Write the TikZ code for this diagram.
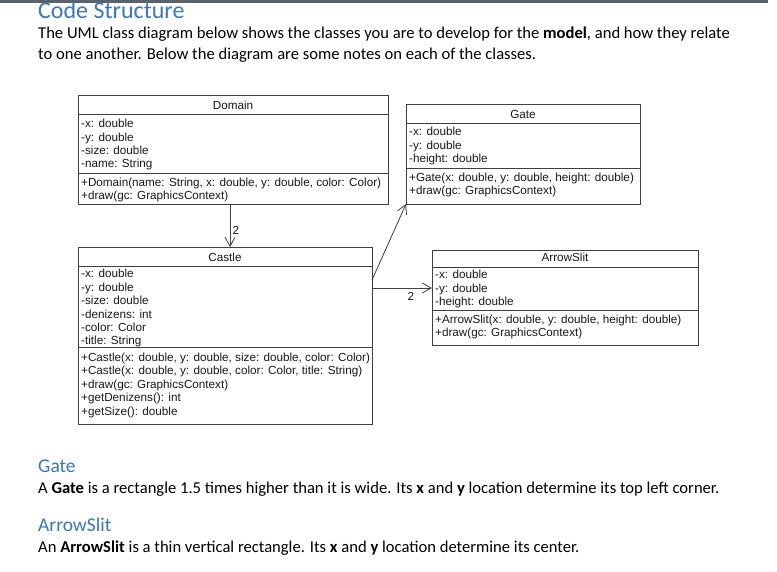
\documentclass[tikz,border=0pt]{standalone}
\usepackage{fontspec}
\setmainfont{Carlito}
\newfontfamily\umlfont{Liberation Sans}
\usetikzlibrary{arrows.meta}
\definecolor{headblue}{HTML}{3A78BD}
\definecolor{umlline}{HTML}{404040}
\definecolor{barcol}{HTML}{59626B}
\begin{document}
\begin{tikzpicture}[x=1pt,y=-1pt,
  classbox/.style={draw=umlline, line width=0.8pt, anchor=north west, inner sep=0pt, outer sep=0pt},
  divider/.style={draw=umlline, line width=0.8pt},
  umltext/.style={font=\umlfont\fontsize{11.7}{13}\selectfont, inner sep=0pt, anchor=base west, text=black!90},
  umltitle/.style={font=\umlfont\fontsize{11.7}{13}\selectfont, inner sep=0pt, anchor=base, text=black!90},
  assoc/.style={draw=umlline, line width=0.8pt, -{Straight Barb[length=9pt,width=10pt]}},
  mult/.style={font=\umlfont\fontsize{11.7}{13}\selectfont, inner sep=0pt, text=black!90},
  heading/.style={font=\fontsize{24}{28}\selectfont, text=headblue, anchor=base west, inner sep=0pt},
  subheading/.style={font=\fontsize{19.5}{23}\selectfont, text=headblue, anchor=base west, inner sep=0pt},
  bodytext/.style={font=\fontsize{16.6}{20}\selectfont, anchor=base west, inner sep=0pt},
]
\useasboundingbox (0,0) rectangle (777,572);
\fill[white] (0,0) rectangle (777,572);
\fill[barcol] (0,0) rectangle (768,3);

% texts
\node[heading] (title) at (38,18.5) {Code Structure};
\node[bodytext] (p1) at (38,39) {The UML class diagram below shows the classes you are to develop for the \textbf{model}, and how they relate};
\node[bodytext] (p2) at (38,60) {to one another. Below the diagram are some notes on each of the classes.};
\node[subheading] (h2) at (38,472) {Gate};
\node[bodytext] (p3) at (38,493.5) {A \textbf{Gate} is a rectangle 1.5 times higher than it is wide. Its \textbf{x} and \textbf{y} location determine its top left corner.};
\node[subheading] (h3) at (38,531.5) {ArrowSlit};
\node[bodytext] (p4) at (38,552.5) {An \textbf{ArrowSlit} is a thin vertical rectangle. Its \textbf{x} and \textbf{y} location determine its center.};

% Domain
\node[classbox, minimum width=310pt, minimum height=109pt] (domain) at (78,95) {};
\coordinate (d1) at (0,114);
\coordinate (d2) at (0,173);
\draw[divider] (domain.west |- d1) -- (domain.east |- d1);
\draw[divider] (domain.west |- d2) -- (domain.east |- d2);
\node[umltitle] (dtitle) at (233,109.5) {Domain};
\foreach \t [count=\i from 0] in {{-x: double},{-y: double},{-size: double},{-name: String}}
  \node[umltext] (da\i) at (81,127.8+13.4*\i) {\t};
\foreach \t [count=\i from 0] in {{+Domain(name: String, x: double, y: double, color: Color)},{+draw(gc: GraphicsContext)}}
  \node[umltext] (dm\i) at (81,186.5+13.4*\i) {\t};

% Gate
\node[classbox, minimum width=234pt, minimum height=100pt] (gate) at (406,104) {};
\coordinate (g1) at (0,123);
\coordinate (g2) at (0,168);
\draw[divider] (gate.west |- g1) -- (gate.east |- g1);
\draw[divider] (gate.west |- g2) -- (gate.east |- g2);
\node[umltitle] (gtitle) at (523,119) {Gate};
\foreach \t [count=\i from 0] in {{-x: double},{-y: double},{-height: double}}
  \node[umltext] (ga\i) at (409,136+13.4*\i) {\t};
\foreach \t [count=\i from 0] in {{+Gate(x: double, y: double, height: double)},{+draw(gc: GraphicsContext)}}
  \node[umltext] (gm\i) at (409,181.5+13.4*\i) {\t};

% Castle
\node[classbox, minimum width=294pt, minimum height=177pt] (castle) at (78,247) {};
\coordinate (c1) at (0,266);
\coordinate (c2) at (0,347);
\draw[divider] (castle.west |- c1) -- (castle.east |- c1);
\draw[divider] (castle.west |- c2) -- (castle.east |- c2);
\node[umltitle] (ctitle) at (225,261.5) {Castle};
\foreach \t [count=\i from 0] in {{-x: double},{-y: double},{-size: double},{-denizens: int},{-color: Color},{-title: String}}
  \node[umltext] (ca\i) at (81,278+13.4*\i) {\t};
\foreach \t [count=\i from 0] in {{+Castle(x: double, y: double, size: double, color: Color)},{+Castle(x: double, y: double, color: Color, title: String)},{+draw(gc: GraphicsContext)},{+getDenizens(): int},{+getSize(): double}}
  \node[umltext] (cm\i) at (81,361.5+13.4*\i) {\t};

% ArrowSlit
\node[classbox, minimum width=266pt, minimum height=95pt] (arrowslit) at (432,250) {};
\coordinate (s1) at (0,267);
\coordinate (s2) at (0,310);
\draw[divider] (arrowslit.west |- s1) -- (arrowslit.east |- s1);
\draw[divider] (arrowslit.west |- s2) -- (arrowslit.east |- s2);
\node[umltitle] (stitle) at (565,262) {ArrowSlit};
\foreach \t [count=\i from 0] in {{-x: double},{-y: double},{-height: double}}
  \node[umltext] (sa\i) at (435,279+13.4*\i) {\t};
\foreach \t [count=\i from 0] in {{+ArrowSlit(x: double, y: double, height: double)},{+draw(gc: GraphicsContext)}}
  \node[umltext] (sm\i) at (435,323.5+13.4*\i) {\t};

% connectors
\coordinate (dcx) at (230,0);
\coordinate (cg) at (0,280);
\coordinate (cs) at (0,288);
\draw[assoc] (domain.south -| dcx) -- (castle.north -| dcx);
\draw[assoc] (castle.east |- cg) -- (gate.south west);
\draw[assoc] (castle.east |- cs) -- (arrowslit.west |- cs);
\node[mult] (m1) at (236,230) {2};
\node[mult] (m2) at (411,296) {2};
\end{tikzpicture}
\end{document}
